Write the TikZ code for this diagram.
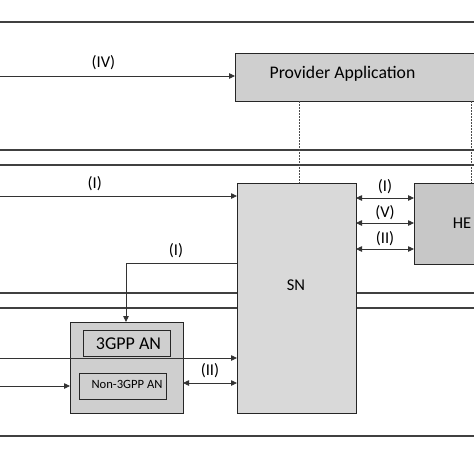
\documentclass[tikz,border=0pt]{standalone}
\usepackage{fontspec}
\setmainfont{Carlito}
\usetikzlibrary{arrows.meta}
\begin{document}
\begin{tikzpicture}[x=1pt,y=-1pt,
  box/.style={draw=black!85,line width=0.9pt,inner sep=0pt,anchor=north west},
  hline/.style={draw=black!75,line width=1.1pt},
  conn/.style={draw=black!80,line width=0.8pt,-{Triangle[length=6pt,width=5.5pt]}},
  dconn/.style={draw=black!80,line width=0.8pt,{Triangle[length=6pt,width=5.5pt]}-{Triangle[length=6pt,width=5.5pt]}},
  dots/.style={draw=black!70,line width=0.9pt,dash pattern=on 1.5pt off 1.5pt},
  lbl/.style={font=\fontsize{16.5}{18}\selectfont,inner sep=0pt}]
\useasboundingbox (0,0) rectangle (474,474);
% horizontal lines
\draw[hline] (0,22) -- (474,22);
\draw[hline] (0,150) -- (474,150);
\draw[hline] (0,165) -- (474,165);
\draw[hline] (0,293) -- (237,293) (356,293) -- (474,293);
\draw[hline] (0,308) -- (237,308) (356,308) -- (474,308);
\draw[hline] (0,436) -- (474,436);
% boxes
\node[box,fill=black!19,minimum width=250pt,minimum height=48pt] (pa) at (235,53) {};
\node[lbl,font=\fontsize{17.7}{20}\selectfont] (patext) at (342.5,74) {Provider Application};
\node[box,fill=black!15,minimum width=119pt,minimum height=230pt] (sn) at (237,183) {};
\node[lbl] (sntext) at (296,285) {SN};
\node[box,fill=black!22,minimum width=80pt,minimum height=81pt] (he) at (414,183) {};
\node[lbl] (hetext) at (462,223) {HE};
\node[box,fill=black!19,minimum width=113pt,minimum height=91pt] (an) at (70,322) {};
\node[box,fill=black!19,minimum width=87pt,minimum height=26pt] (gpp) at (83,330) {};
\node[lbl,font=\fontsize{18}{20}\selectfont] (gpptext) at (128.5,343.5) {3GPP AN};
\node[box,fill=black!19,minimum width=87pt,minimum height=26pt] (ngpp) at (79,373) {};
\node[lbl,font=\fontsize{12.6}{14}\selectfont] (ngpptext) at (127,384) {Non-3GPP AN};
% dotted
\draw[dots] (299,101) -- (299,183);
\draw[dots] (471,101) -- (471,183);
% connectors
\coordinate (s4) at (0,76);
\coordinate (s1) at (0,196);
\coordinate (s3) at (0,358);
\coordinate (s5) at (0,386);
\draw[conn] (s4) -- (s4 -| pa.west) node[lbl,pos=0.44,above=6pt] {(IV)};
\draw[conn] (s1) -- (s1 -| sn.west) node[lbl,pos=0.4,above=5pt] {(I)};
\draw[dconn] (356,198) -- (414,198) node[lbl,midway,above=4pt] {(I)};
\draw[dconn] (356,223) -- (414,223) node[lbl,midway,above=3pt] {(V)};
\draw[dconn] (356,249) -- (414,249) node[lbl,midway,above=3pt] {(II)};
\draw[conn] (237,263) -- (126,263) node[lbl,pos=0.55,above=5pt] {(I)} -- (an.north -| 126,0);
\draw[conn] (s3) -- (s3 -| sn.west);
\draw[conn] (s5) -- (s5 -| an.west);
\draw[dconn] (183,383) -- (237,383) node[lbl,midway,above=5pt] {(II)};
\end{tikzpicture}
\end{document}
